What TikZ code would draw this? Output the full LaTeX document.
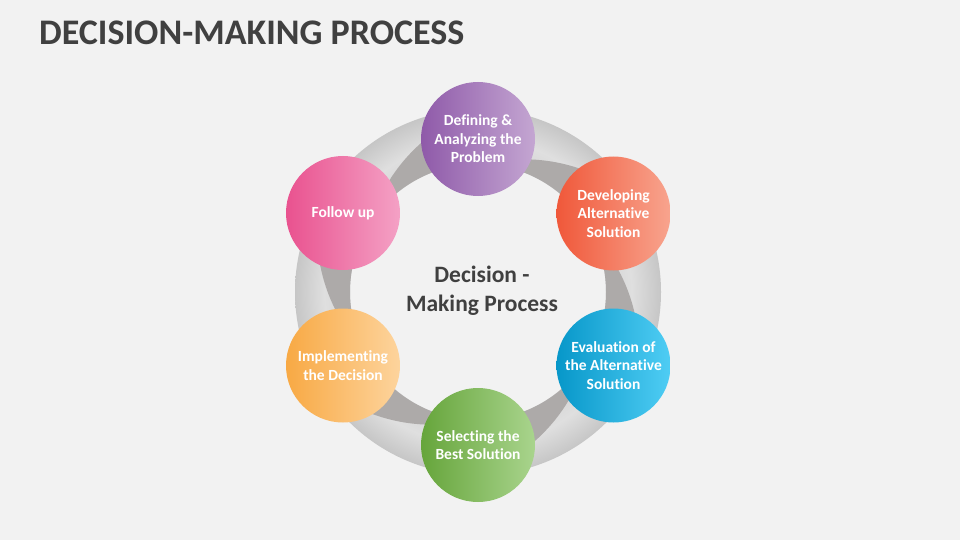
\documentclass[tikz,border=0pt]{standalone}
\usepackage{fontspec}
\setmainfont{Carlito}[Ligatures=NoCommon]
\definecolor{bg}{HTML}{F2F2F2}
\definecolor{ringA}{HTML}{D4D4D4}
\definecolor{ringB}{HTML}{DFDFDF}
\definecolor{ringC}{HTML}{C6C6C6}
\definecolor{darkband}{HTML}{ADAAA9}
\definecolor{titlegray}{HTML}{404040}
\definecolor{purL}{HTML}{8F5AA9}
\definecolor{purR}{HTML}{C4A6D2}
\definecolor{redL}{HTML}{F0583A}
\definecolor{redR}{HTML}{F8A48E}
\definecolor{bluL}{HTML}{0797C9}
\definecolor{bluR}{HTML}{4FCDF4}
\definecolor{grnL}{HTML}{66A53B}
\definecolor{grnR}{HTML}{A9D48D}
\definecolor{orgL}{HTML}{F8A944}
\definecolor{orgR}{HTML}{FDD49D}
\definecolor{pnkL}{HTML}{E9528F}
\definecolor{pnkR}{HTML}{F4A1C5}
\pgfdeclareradialshading{ringshade}{\pgfpoint{0bp}{0bp}}{color(0bp)=(ringA); color(17.5bp)=(ringA); color(21bp)=(ringB); color(25bp)=(ringC); color(50bp)=(ringC)}
\tikzset{
  stepcircle/.style={circle, minimum size=114pt, inner sep=0pt, align=center,
    text=white, font=\fontsize{15.5}{18.5}\selectfont\bfseries},
  darkseg/.style={fill=darkband},
}
\begin{document}
\begin{tikzpicture}[x=1pt,y=-1pt]
\useasboundingbox (0,0) rectangle (960,540);
\fill[bg] (0,0) rectangle (960,540);
% title
\node[anchor=base west, inner sep=0pt, text=titlegray,
  font=\fontsize{36}{40}\selectfont\bfseries] (title) at (39,45) {DECISION-MAKING PROCESS};
% ring
\coordinate (C) at (478,292);
\shade[shading=ringshade, even odd rule] (C) circle[radius=183pt] (C) circle[radius=128pt];
\foreach \a in {90,30,-30,-90,-150,-210} {
  \fill[darkseg] ({478+128*cos(\a)},{292-128*sin(\a)})
    -- plot[domain=0.01:60,samples=50,variable=\t]
      ({478+(128+55*pow(\t/60,1.3))*cos(\a-\t)},{292-(128+55*pow(\t/60,1.3))*sin(\a-\t)})
    -- plot[domain=60:0,samples=50,variable=\t]
      ({478+128*cos(\a-\t)},{292-128*sin(\a-\t)}) -- cycle;
}
% center text
\node[align=center, text=titlegray, inner sep=0pt,
  font=\fontsize{23.5}{29}\selectfont\bfseries] (center) at (482,291) {Decision -\\Making Process};
% circles
\node[stepcircle, left color=purL, right color=purR] (s1) at (478,139) {Defining \&\\Analyzing the\\Problem};
\node[stepcircle, left color=redL, right color=redR] (s2) at (613.5,213.5) {Developing\\Alternative\\Solution};
\node[stepcircle, left color=bluL, right color=bluR] (s3) at (613.5,365.5) {Evaluation of\\the Alternative\\Solution};
\node[stepcircle, left color=grnL, right color=grnR] (s4) at (478,445) {Selecting the\\Best Solution};
\node[stepcircle, left color=orgL, right color=orgR] (s5) at (343,365.5) {Implementing\\the Decision};
\node[stepcircle, left color=pnkL, right color=pnkR] (s6) at (343,213) {Follow up};
\end{tikzpicture}
\end{document}
